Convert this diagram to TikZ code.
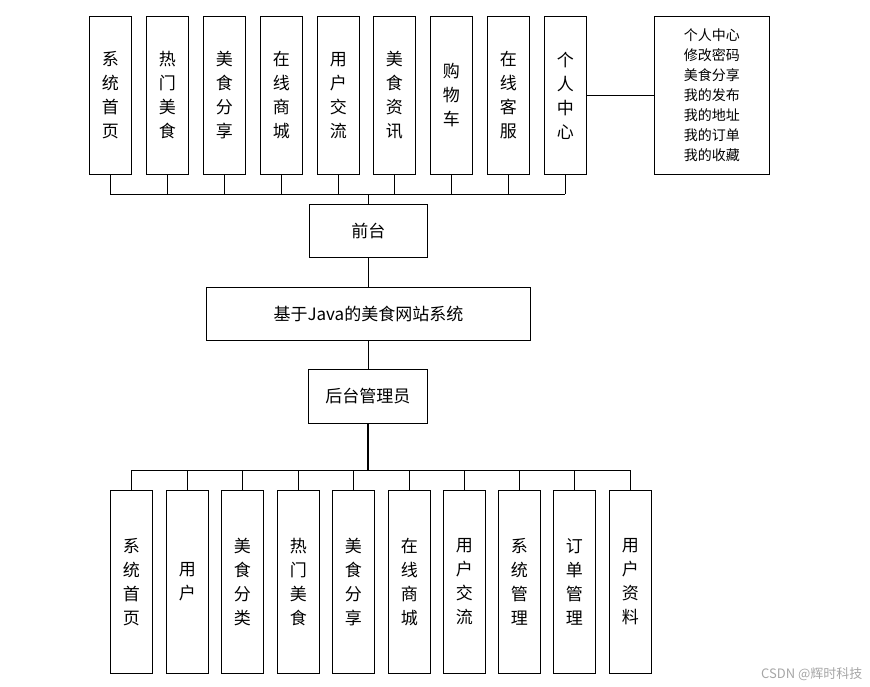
\documentclass[tikz,border=0pt]{standalone}
\usepackage{fontspec}
\setmainfont{Liberation Serif}
\newfontfamily\cjk{Noto Sans CJK SC}
\begin{document}
\begin{tikzpicture}[x=1pt,y=-1pt,
  box/.style={draw,line width=0.8pt,anchor=north west,inner sep=0pt,font=\cjk\fontsize{17}{24}\selectfont,align=center},
  ln/.style={line width=0.8pt}]
\useasboundingbox (0,0) rectangle (870,687);
% top
\foreach \x/\t [count=\i] in {89/系\\统\\首\\页,146/热\\门\\美\\食,203/美\\食\\分\\享,260/在\\线\\商\\城,317/用\\户\\交\\流,373/美\\食\\资\\讯,430/购\\物\\车,487/在\\线\\客\\服,544/个\\人\\中\\心}{
  \node[box,minimum width=42pt,minimum height=158pt] (t\i) at (\x,16) {\t};
  \draw[ln] (t\i.south) -- (t\i.south |- 0,194);
}
\node[box,minimum width=115pt,minimum height=158pt,font=\cjk\fontsize{14}{20}\selectfont] (r) at (654,16) {个人中心\\修改密码\\美食分享\\我的发布\\我的地址\\我的订单\\我的收藏};
\draw[ln] (t9.east) -- (r.west |- t9.east);
\draw[ln] (110,194) -- (565,194);
\node[box,minimum width=118pt,minimum height=53pt] (f) at (309,204) {前台};
\node[box,minimum width=324pt,minimum height=53pt] (m) at (206,287) {基于Java的美食网站系统};
\node[box,minimum width=119pt,minimum height=54pt] (a) at (308,369) {后台管理员};
\draw[ln] (f.north) -- (f.north |- 0,194);
\draw[ln] (f.south) -- (m.north -| f.south);
\draw[ln] (m.south -| a.north) -- (a.north);
\draw[line width=1.6pt] (a.south) -- (a.south |- 0,470);
\draw[ln] (131,470) -- (630,470);
\foreach \x/\t [count=\i] in {110/系\\统\\首\\页,166/用\\户,221/美\\食\\分\\类,277/热\\门\\美\\食,332/美\\食\\分\\享,388/在\\线\\商\\城,443/用\\户\\交\\流,498/系\\统\\管\\理,553/订\\单\\管\\理,609/用\\户\\资\\料}{
  \node[box,minimum width=42pt,minimum height=183pt] (b\i) at (\x,490) {\t};
  \draw[ln] (b\i.north) -- (b\i.north |- 0,470);
}
\node[anchor=south east,text=gray!70,font=\cjk\fontsize{13}{15}\selectfont] (w) at (866,684) {CSDN @辉时科技};
\end{tikzpicture}
\end{document}
